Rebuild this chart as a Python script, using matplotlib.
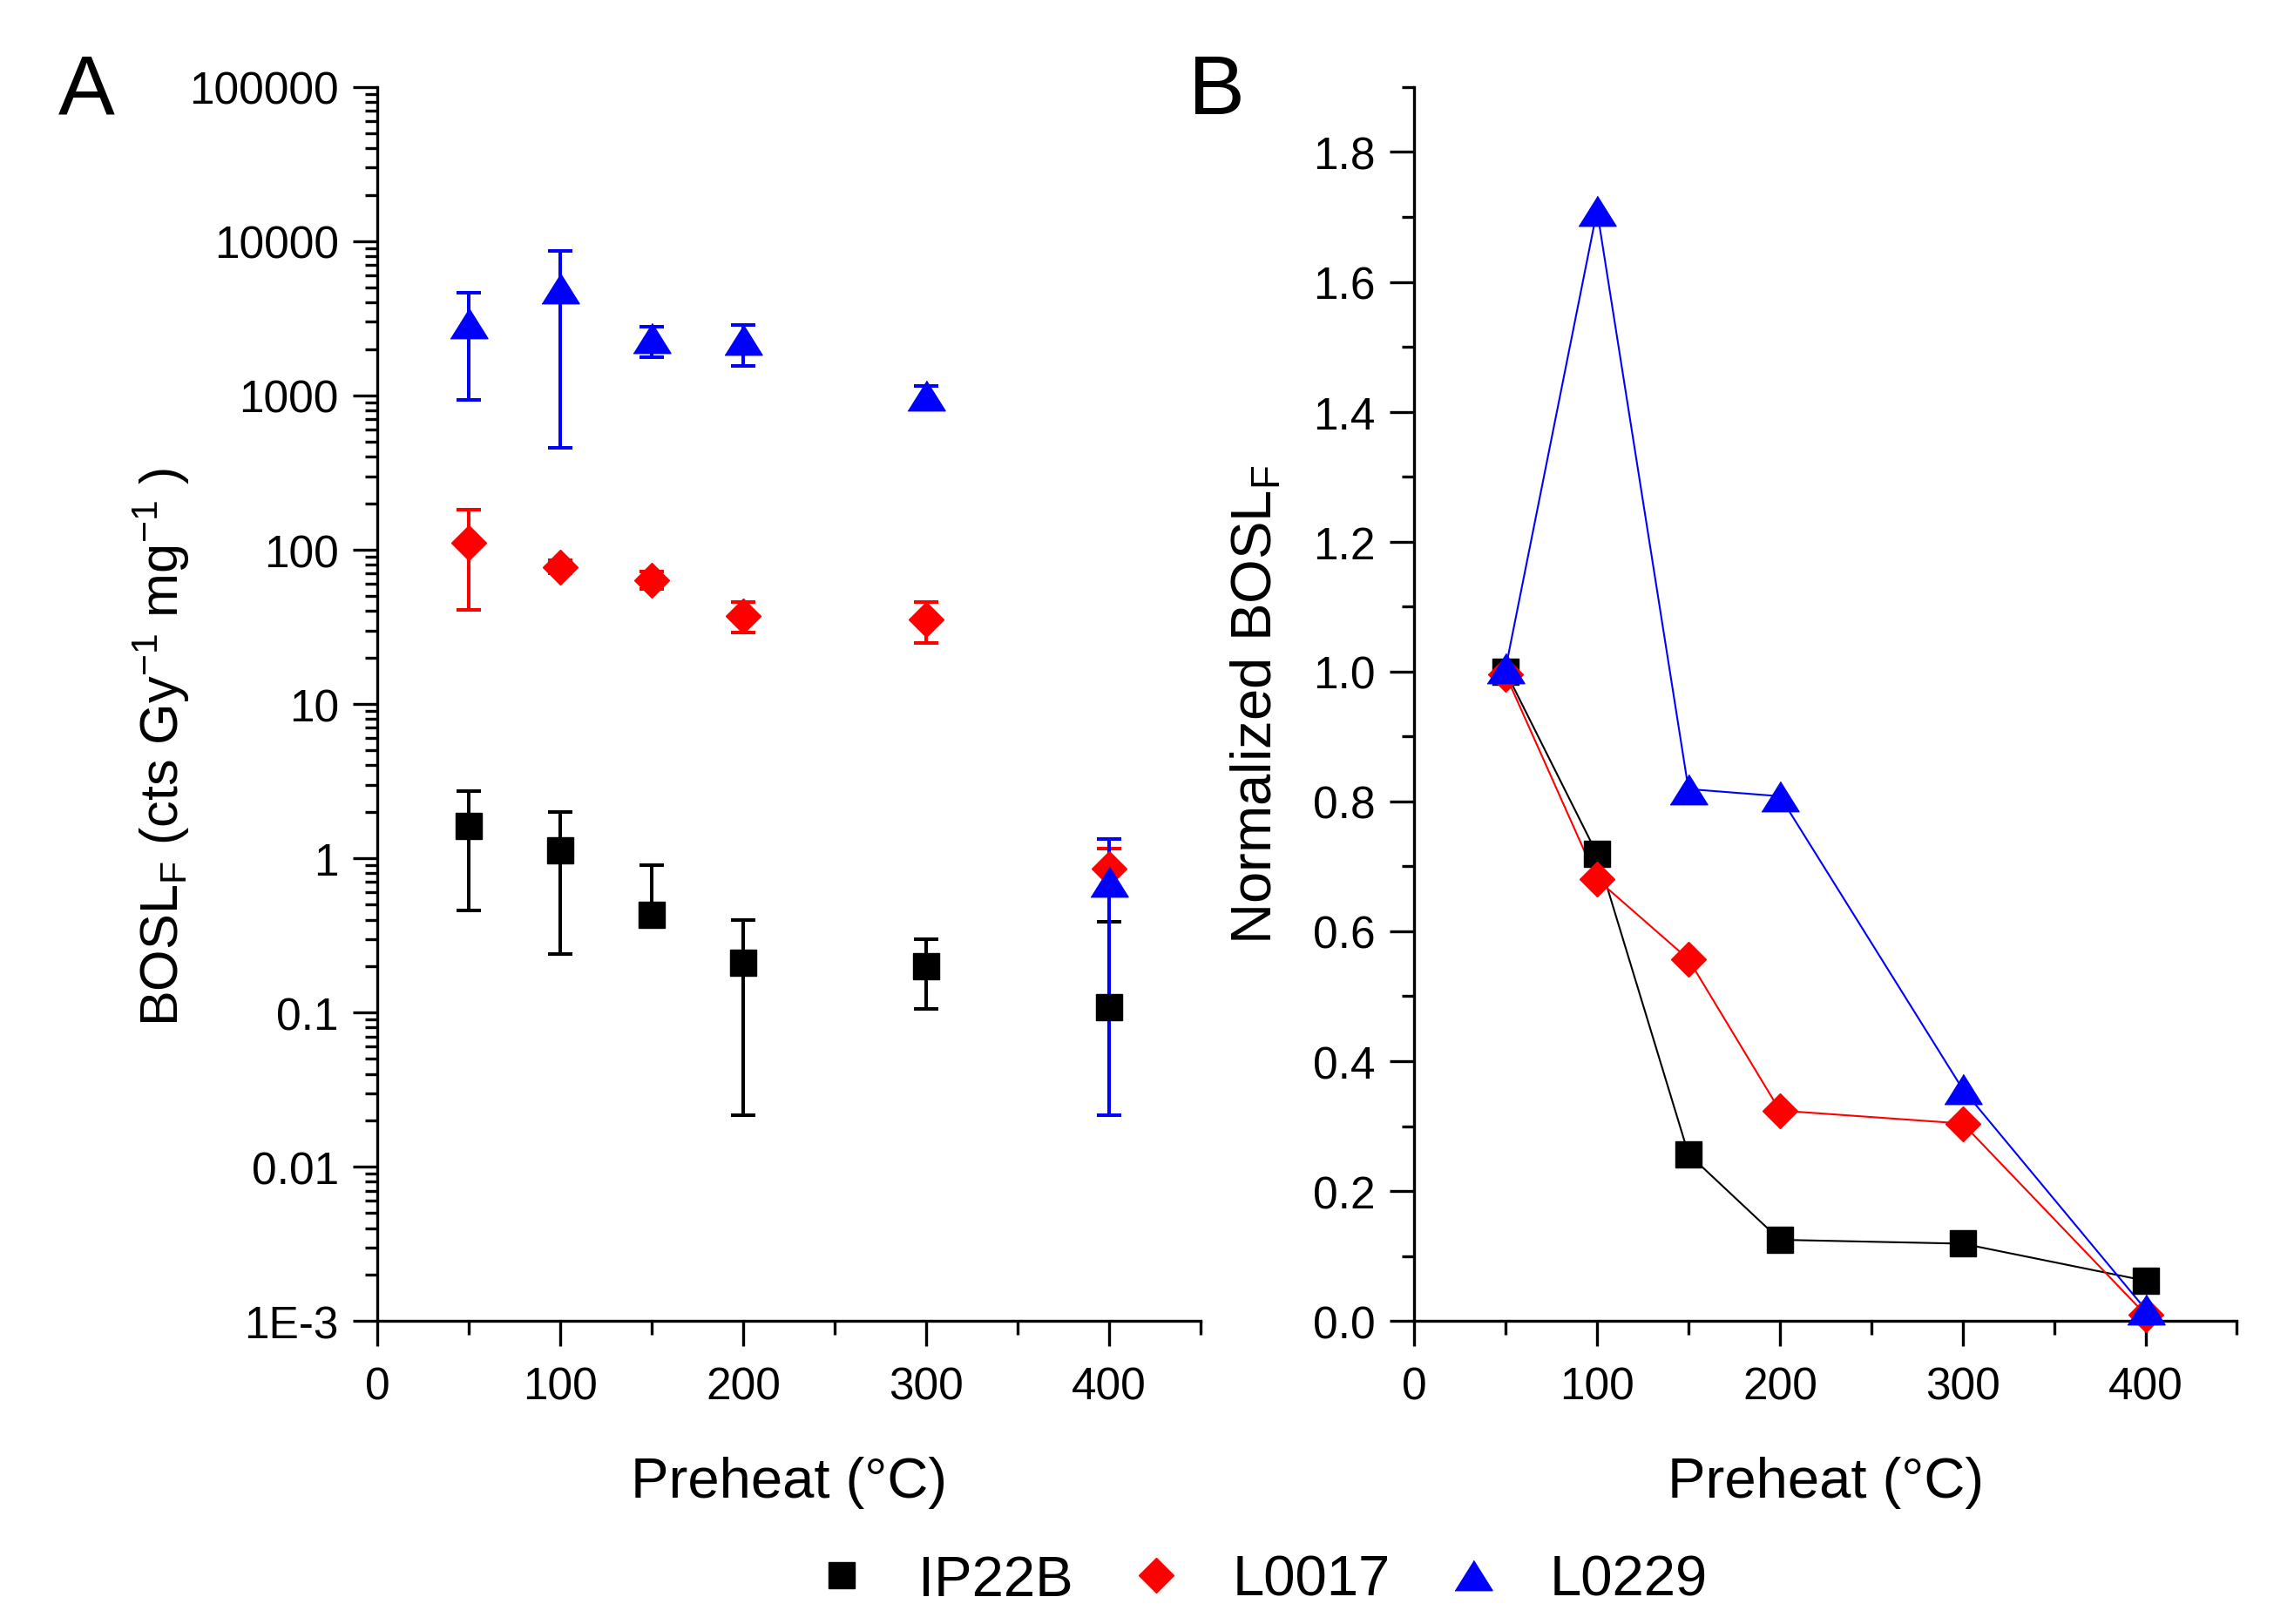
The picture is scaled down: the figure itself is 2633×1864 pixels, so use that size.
import numpy as np
import matplotlib
matplotlib.use("Agg")
import matplotlib.pyplot as plt
from matplotlib.lines import Line2D
from matplotlib.ticker import FixedLocator, FixedFormatter, MultipleLocator, LogLocator, NullFormatter

plt.rcParams['font.family'] = ['Liberation Sans', 'DejaVu Sans']
plt.rcParams['mathtext.fontset'] = 'custom'
plt.rcParams['mathtext.rm'] = 'Liberation Sans'

# ---------------- data ----------------
preheat = [50, 100, 150, 200, 300, 400]
names = ["IP22B", "L0017", "L0229"]
colors = ["black", "red", "blue"]

# Panel A: BOSL_F (cts Gy^-1 mg^-1)
ip22b_A = [1.62, 1.13, 0.43, 0.21, 0.20, 0.108]
ip22b_A_lo = [0.46, 0.24, 0.38, 0.0216, 0.106, 0.0216]
ip22b_A_hi = [2.72, 2.0, 0.90, 0.40, 0.30, 0.386]

l0017_A = [111, 77.5, 63.8, 37, 35.2, 0.855]
l0017_A_lo = [40.6, 70, 56, 29, 24.8, 0.57]
l0017_A_hi = [182, 85, 72, 45.6, 45.6, 1.16]

l0229_A = [2930, 4925, 2350, 2300, 1000, 0.70]
l0229_A_lo = [940, 460, 1780, 1560, 900, 0.0216]
l0229_A_hi = [4610, 8690, 2800, 2850, 1150, 1.34]

# Panel B: normalized BOSL_F
ip22b_B = [1.0, 0.719, 0.257, 0.125, 0.119, 0.062]
l0017_B = [0.995, 0.68, 0.557, 0.324, 0.304, 0.01]
l0229_B = [1.005, 1.71, 0.819, 0.808, 0.357, 0.018]

ytick_vals_A = [1e-3, 1e-2, 1e-1, 1, 10, 100, 1000, 10000, 100000]
ytick_labels_A = ["1E-3", "0.01", "0.1", "1", "10", "100", "1000", "10000", "100000"]
xtick_vals = [0, 100, 200, 300, 400]

markers = ["s", "D", [(-1.25, -1), (1.25, -1), (0, 1)]]
msizes = [21, 20, 31]

A_vals = [ip22b_A, l0017_A, l0229_A]
A_lo = [ip22b_A_lo, l0017_A_lo, l0229_A_lo]
A_hi = [ip22b_A_hi, l0017_A_hi, l0229_A_hi]
B_vals = [ip22b_B, l0017_B, l0229_B]

# ---------------- figure ----------------
fig = plt.figure(figsize=(26.33, 18.65), dpi=100)
axA = fig.add_axes([0.1646, 0.1865, 0.3587, 0.7594])
axB = fig.add_axes([0.6165, 0.1865, 0.3586, 0.7594])

TICK_FS = 37
LABEL_FS = 47

for ax in (axA, axB):
    for s in ("top", "right"):
        ax.spines[s].set_visible(False)
    for s in ("left", "bottom"):
        ax.spines[s].set_linewidth(2.4)
    ax.tick_params(axis='both', which='major', direction='out', length=20, width=2.4,
                   labelsize=TICK_FS, pad=12)
    ax.tick_params(axis='both', which='minor', direction='out', length=10, width=2.4)
    ax.tick_params(axis='x', which='major', length=21, pad=16)
    ax.tick_params(axis='x', which='minor', length=11.5)
    ax.set_xlim(0, 450)
    ax.xaxis.set_major_locator(FixedLocator(xtick_vals))
    ax.xaxis.set_minor_locator(MultipleLocator(50))

# Panel A
axA.set_yscale('log')
axA.set_ylim(1e-3, 1e5)
for v, lo, hi, c, m, ms in zip(A_vals, A_lo, A_hi, colors, markers, msizes):
    v = np.array(v); lo = np.array(lo); hi = np.array(hi)
    yerr = np.vstack([v - lo, hi - v])
    axA.errorbar(preheat, v, yerr=yerr, fmt='none', ecolor=c, elinewidth=2.9,
                 capsize=10, capthick=2.9, zorder=2)
    axA.plot(preheat, v, linestyle='none', marker=m, markersize=ms, color=c,
             markeredgecolor=c, zorder=3, clip_on=False)
axA.yaxis.set_major_locator(FixedLocator(ytick_vals_A))
axA.yaxis.set_major_formatter(FixedFormatter(ytick_labels_A))
axA.yaxis.set_minor_locator(LogLocator(base=10, subs=np.arange(2, 10), numticks=50))
axA.yaxis.set_minor_formatter(NullFormatter())

# Panel B
axB.set_ylim(0, 1.9)
for v, c, m, ms in zip(B_vals, colors, markers, msizes):
    axB.plot(preheat, v, linestyle='-', linewidth=1.5, color=c, zorder=2, clip_on=False)
    axB.plot(preheat, v, linestyle='none', marker=m, markersize=ms, color=c,
             markeredgecolor=c, zorder=3, clip_on=False)
axB.yaxis.set_major_locator(MultipleLocator(0.2))
axB.yaxis.set_minor_locator(MultipleLocator(0.1))
axB.yaxis.set_major_formatter(matplotlib.ticker.FormatStrFormatter('%.1f'))

# axis labels
for ax in (axA, axB):
    ax.set_xlabel("Preheat (°C)", fontsize=LABEL_FS)
    ax.xaxis.set_label_coords(0.5, -0.109)

fig.text(0.0702, 0.5405,
         r"BOSL$_\mathregular{F}$ (cts Gy$^\mathregular{-1}$ mg$^\mathregular{-1}$ )",
         rotation=90, ha='center', va='center', fontsize=44)
fig.text(0.5475, 0.5667, r"Normalized BOSL$_\mathregular{F}$",
         rotation=90, ha='center', va='center', fontsize=LABEL_FS)

# panel letters
fig.text(0.0255, 0.930, "A", fontsize=70, ha='left', va='baseline')
fig.text(0.518, 0.930, "B", fontsize=70, ha='left', va='baseline')

# legend
handles = [Line2D([], [], linestyle='none', marker=m, markersize=ms, color=c, markeredgecolor=c)
           for c, m, ms in zip(colors, markers, msizes)]
fig.legend(handles, names, loc='center', bbox_to_anchor=(0.5495, 0.027), ncol=3,
           frameon=False, fontsize=47, handlelength=1.0, handletextpad=0.85,
           columnspacing=0.95, borderaxespad=0)

fig.savefig("out.png", dpi=100)
